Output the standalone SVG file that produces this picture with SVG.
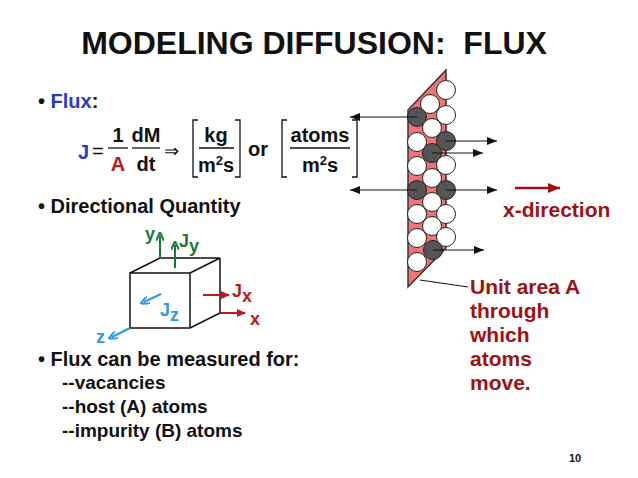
<svg xmlns="http://www.w3.org/2000/svg" width="638" height="478" viewBox="0 0 638 478">
<style>
text{font-family:"Liberation Sans",Arial,sans-serif;font-weight:bold}
.b{font-size:20px;fill:#111}
.r{font-size:21px;fill:#a01010}
.g{fill:#1a7a3a;font-size:18px}
.c{fill:#2a9ae0;font-size:18px}
.rr{fill:#c01818;font-size:18px}
.w{fill:#fff;stroke:#222;stroke-width:1}
.d{fill:#555;stroke:#222;stroke-width:1}
.k{stroke:#111;stroke-width:1.3;fill:none}
.s{font-size:19px;fill:#111}
</style>
<defs>
<marker id="ak" markerWidth="10" markerHeight="8" refX="10" refY="4" orient="auto" markerUnits="userSpaceOnUse"><path d="M0,0L10,4L0,8Z" fill="#111"/></marker>
<marker id="ar" markerWidth="12" markerHeight="10" refX="12" refY="5" orient="auto" markerUnits="userSpaceOnUse"><path d="M0,0L12,5L0,10Z" fill="#a01010"/></marker>
<marker id="ag" markerWidth="9" markerHeight="8" refX="5" refY="4" orient="auto" markerUnits="userSpaceOnUse"><path d="M0,0L9,4L0,8" fill="none" stroke="#1a7a3a" stroke-width="2"/></marker>
<marker id="arr" markerWidth="9" markerHeight="8" refX="8" refY="4" orient="auto" markerUnits="userSpaceOnUse"><path d="M0,0L9,4L0,8Z" fill="#c01818"/></marker>
<marker id="ac" markerWidth="9" markerHeight="8" refX="5" refY="4" orient="auto" markerUnits="userSpaceOnUse"><path d="M0,0L9,4L0,8" fill="none" stroke="#2a9ae0" stroke-width="2"/></marker>
</defs>
<rect width="638" height="478" fill="#fff"/>
<text x="314" y="54" text-anchor="middle" style="font-size:32px;white-space:pre" fill="#111">MODELING DIFFUSION:  FLUX</text>
<text x="38" y="108" class="b">• <tspan fill="#2a3ac8">Flux</tspan>:</text>
<g id="equation">
<text x="78" y="159" style="font-size:20px" fill="#2a3ac8">J</text>
<text x="92" y="158" style="font-size:20px;font-weight:normal" fill="#111">=</text>
<text x="118" y="142" class="b" text-anchor="middle">1</text>
<text x="118" y="171" class="b" text-anchor="middle" style="fill:#c01818">A</text>
<line x1="108" y1="148" x2="128" y2="148" class="k"/>
<text x="146" y="142" class="b" text-anchor="middle">dM</text>
<text x="146" y="171" class="b" text-anchor="middle">dt</text>
<line x1="132" y1="148" x2="160" y2="148" class="k"/>
<text x="164" y="157" style="font-size:18px;font-weight:normal" fill="#111">⇒</text>
<path d="M198,120H193V177H198M235,120H240V177H235" class="k"/>
<text x="216" y="142" class="b" text-anchor="middle">kg</text>
<line x1="199" y1="148" x2="234" y2="148" class="k"/>
<text x="216" y="172" class="b" text-anchor="middle">m<tspan dy="-7" style="font-size:13px">2</tspan><tspan dy="7">s</tspan></text>
<text x="248" y="156" class="b">or</text>
<path d="M287,120H282V177H287M352,120H357V177H352" class="k"/>
<text x="320" y="142" class="b" text-anchor="middle">atoms</text>
<line x1="290" y1="148" x2="350" y2="148" class="k"/>
<text x="320" y="172" class="b" text-anchor="middle">m<tspan dy="-7" style="font-size:13px">2</tspan><tspan dy="7">s</tspan></text>
</g>
<text x="38" y="213" class="b">•  Directional Quantity</text>
<g id="cube">
<path d="M130,273H190V328H130Z M130,273L160,258H220L190,273 M220,258V313L190,328" fill="none" stroke="#111" stroke-width="1.5"/>
<line x1="160" y1="258" x2="160" y2="236" stroke="#1a7a3a" stroke-width="2" marker-end="url(#ag)"/>
<text x="145" y="240" class="g">y</text>
<line x1="175" y1="268" x2="175" y2="245" stroke="#1a7a3a" stroke-width="2" marker-end="url(#ag)"/>
<text x="179" y="247" class="g">J<tspan dy="5">y</tspan></text>
<line x1="203" y1="295" x2="229" y2="295" stroke="#c01818" stroke-width="2" marker-end="url(#arr)"/>
<text x="232" y="297" class="rr">J<tspan dy="5">x</tspan></text>
<line x1="220" y1="313" x2="245" y2="313" stroke="#c01818" stroke-width="2" marker-end="url(#arr)"/>
<text x="250" y="325" class="rr">x</text>
<line x1="161" y1="294" x2="144" y2="302" stroke="#2a9ae0" stroke-width="2" marker-end="url(#ac)"/>
<text x="160" y="316" class="c">J<tspan dy="5">z</tspan></text>
<line x1="130" y1="328" x2="112" y2="337" stroke="#2a9ae0" stroke-width="2" marker-end="url(#ac)"/>
<text x="96" y="343" class="c">z</text>
</g>
<text x="38" y="366" class="b">•  Flux can be measured for:</text>
<text x="62" y="389" class="s">--vacancies</text>
<text x="62" y="413" class="s">--host (A) atoms</text>
<text x="62" y="437" class="s">--impurity (B) atoms</text>
<text x="575" y="462" text-anchor="middle" style="font-size:11px" fill="#111">10</text>
<g id="plane">
<polygon points="446,70 408,110 408,287 446,248" fill="#f07474" stroke="#333" stroke-width="1.5"/>
<circle cx="446" cy="90" r="9.5" class="w"/><circle cx="430" cy="104" r="9.5" class="w"/><circle cx="446" cy="115" r="9.5" class="w"/><circle cx="417" cy="117" r="9.5" class="d"/>
<circle cx="432" cy="128" r="9.5" class="w"/><circle cx="417" cy="142" r="9.5" class="w"/><circle cx="446" cy="141" r="9.5" class="d"/><circle cx="432" cy="153" r="9.5" class="d"/>
<circle cx="417" cy="166" r="9.5" class="w"/><circle cx="446" cy="165" r="9.5" class="w"/><circle cx="432" cy="178" r="9.5" class="w"/><circle cx="417" cy="190" r="9.5" class="d"/><circle cx="446" cy="190" r="9.5" class="d"/>
<circle cx="432" cy="202" r="9.5" class="w"/><circle cx="417" cy="214" r="9.5" class="w"/><circle cx="446" cy="214" r="9.5" class="w"/><circle cx="432" cy="226" r="9.5" class="w"/>
<circle cx="417" cy="238" r="9.5" class="w"/><circle cx="446" cy="237" r="9.5" class="w"/><circle cx="433" cy="250" r="9.5" class="d"/><circle cx="417" cy="262" r="9.5" class="w"/>
</g>
<g id="connectors" stroke="#111" stroke-width="1.2">
<line x1="417" y1="117" x2="350" y2="117" marker-end="url(#ak)"/>
<line x1="417" y1="190" x2="350" y2="190" marker-end="url(#ak)"/>
<line x1="446" y1="141" x2="497" y2="141" marker-end="url(#ak)"/>
<line x1="432" y1="153" x2="483" y2="153" marker-end="url(#ak)"/>
<line x1="446" y1="190" x2="497" y2="190" marker-end="url(#ak)"/>
<line x1="433" y1="250" x2="484" y2="250" marker-end="url(#ak)"/>
<polyline points="420,280 468,287" fill="none"/>
<line x1="515" y1="188" x2="560" y2="188" stroke="#a01010" stroke-width="2.5" marker-end="url(#ar)"/>
</g>
<text x="503" y="217" class="r">x-direction</text>
<text x="470" y="294" class="r">Unit area A</text>
<text x="470" y="318" class="r">through</text>
<text x="470" y="342" class="r">which</text>
<text x="470" y="366" class="r">atoms</text>
<text x="470" y="390" class="r">move.</text>
</svg>
